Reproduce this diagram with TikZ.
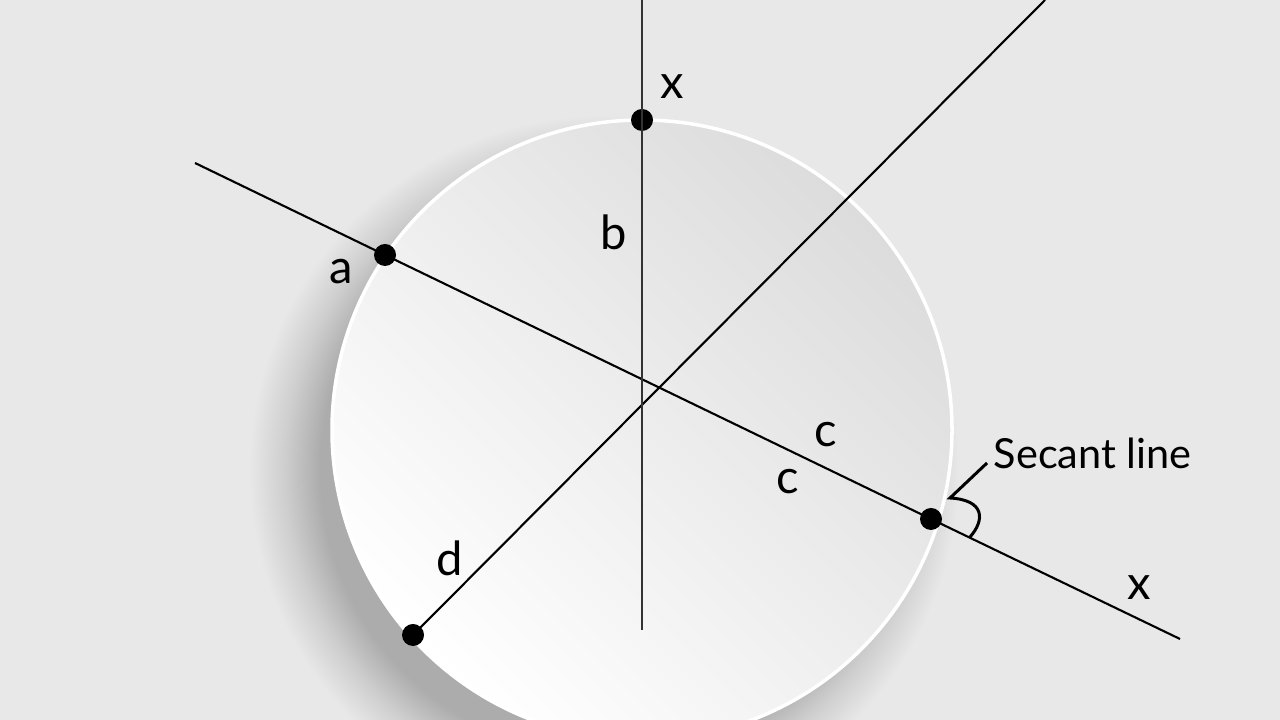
\documentclass[tikz,border=0pt]{standalone}
\usepackage{fontspec}
\setmainfont{Lato}
\usetikzlibrary{calc}
\definecolor{bggray}{RGB}{232,232,232}
\definecolor{discgray}{RGB}{220,220,220}
\definecolor{shadowgray}{RGB}{172,172,172}
\definecolor{shadowmid}{RGB}{206,206,206}
\pgfdeclareradialshading{discshadow}{\pgfpoint{0bp}{0bp}}{color(0bp)=(shadowgray); color(20bp)=(shadowgray); color(22.5bp)=(shadowmid); color(25bp)=(bggray); color(50bp)=(bggray)}
\tikzset{
  dot/.style={circle,fill=black,inner sep=0pt,minimum size=2.2mm},
  lbl/.style={font=\fontsize{13.4}{16}\selectfont,inner sep=0pt},
}

\begin{document}
\begin{tikzpicture}
                 \useasboundingbox (0,0) rectangle (12.8,7.2);
                 \fill[bggray] (0,0) rectangle (12.8,7.2);
                 \clip (0,0) rectangle (12.8,7.2);
                 \coordinate (O) at (6.42,2.90);
                 % disc and shadow
                 \shade[shading=discshadow] ($(O)+(-0.38,-0.40)$) circle (3.55);
                 \shade[top color=discgray,bottom color=white,shading angle=-45] (O) circle (3.10);
                 \draw[white,line width=1pt] (O) circle (3.10);
                 % line ends
                 \coordinate (vtop) at (6.42,7.2);
                 \coordinate (vbot) at (6.42,0.90);
                 \coordinate (sleft) at (1.95,5.57);
                 \coordinate (sright) at (11.80,0.81);
                 \coordinate (dtop) at (10.45,7.2);
                 \node[dot](xtop)at(6.42,6.00){};
                 \node[dot](a)at(3.85,4.65){};
                 \node[dot](p)at(9.31,2.01){};
                 \node[dot](d)at(4.13,0.85){};
                 \draw[line width=0.6pt] (sleft)--(a.center)--(p.center)--(sright);
                 \draw[line width=0.6pt] (d.center)--(dtop);
                 \draw[line width=0.7pt,black!80] (vtop)--(xtop.center)--(vbot);
                 % labels
                 \node[lbl](lx1)at(6.72,6.33){x};
                 \node[lbl](lb)at(6.14,4.88){b};
                 \node[lbl](la)at(3.41,4.48){a};
                 \node[lbl](lc1)at(8.26,2.85){c};
                 \node[lbl](lc2)at(7.88,2.38){c};
                 \node[lbl](ld)at(4.50,1.62){d};
                 \node[lbl](lx2)at(11.39,1.32){x};
                 \node[font=\fontsize{11.8}{14}\selectfont,anchor=west,inner sep=0pt](sec)at(9.93,2.67){Secant line};
                 \coordinate (ptip) at (9.87,2.57);
                 \draw[line width=0.85pt] (ptip)--(9.50,2.22) .. controls (9.85,2.20) and (9.85,2.00) .. (9.70,1.83);
\end{tikzpicture}
\end{document}
